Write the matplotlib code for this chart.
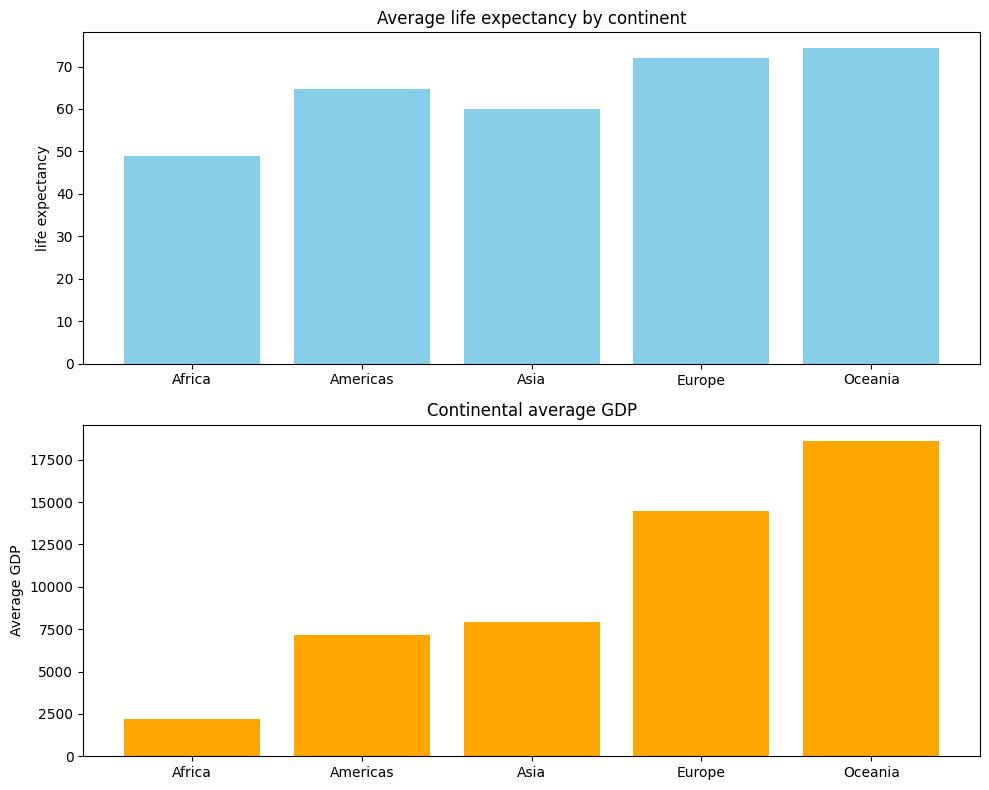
import matplotlib
matplotlib.use('Agg')
import matplotlib.pyplot as plt

# gapminder averages per continent
continents = ['Africa', 'Americas', 'Asia', 'Europe', 'Oceania']
life_exp = [48.87, 64.66, 60.06, 71.90, 74.33]
gdp = [2193.75, 7136.11, 7902.15, 14469.48, 18621.61]

fig, (ax1, ax2) = plt.subplots(2, 1, figsize=(10, 8))

ax1.bar(continents, life_exp, color='skyblue')
ax1.set_title('Average life expectancy by continent')
ax1.set_ylabel('life expectancy')

ax2.bar(continents, gdp, color='orange')
ax2.set_title('Continental average GDP')
ax2.set_ylabel('Average GDP')

plt.tight_layout()
plt.savefig('out.png', dpi=100, bbox_inches='tight')
